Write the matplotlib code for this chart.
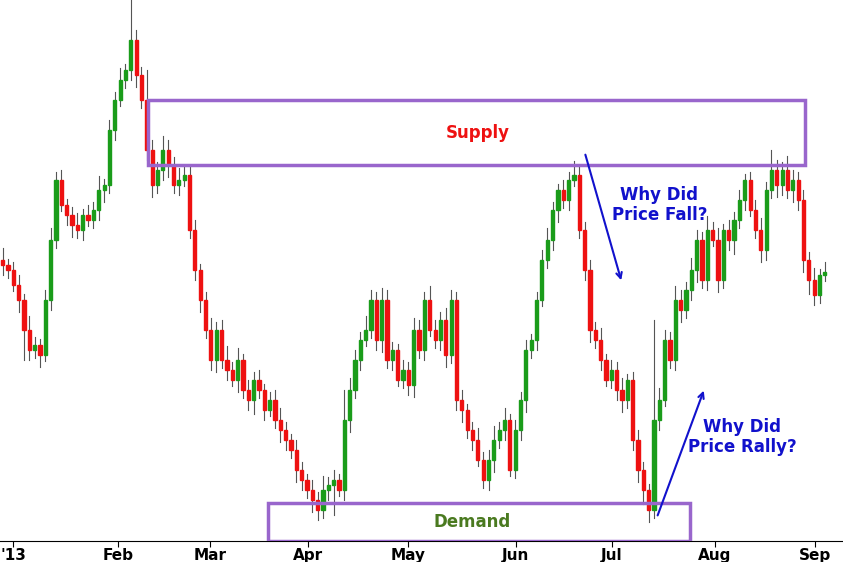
import matplotlib.pyplot as plt
from matplotlib.patches import Rectangle

# closes, read as pixel heights from the picture (price = 560 - y)
close_y = [265, 270, 285, 300, 330, 350, 345, 355, 300, 240,
           180, 205, 215, 225, 230, 215, 220, 210, 190, 185,
           130, 100, 80, 70, 40, 75, 100, 150, 185, 170,
           150, 165, 185, 180, 175, 230, 270, 300, 330, 360,
           330, 360, 370, 380, 360, 390, 400, 380, 390, 410,
           400, 420, 430, 440, 450, 470, 480, 490, 500, 510,
           490, 485, 480, 490, 420, 390, 360, 340, 330, 300,
           340, 300, 360, 350, 380, 370, 385, 330, 350, 300,
           330, 340, 320, 355, 300, 400, 410, 430, 440, 460,
           480, 460, 440, 430, 420, 470, 430, 400, 350, 340,
           300, 260, 240, 210, 190, 200, 180, 175, 230, 270,
           330, 340, 360, 380, 370, 390, 400, 380, 440, 470,
           490, 510, 420, 400, 340, 360, 300, 310, 290, 270,
           240, 280, 230, 240, 280, 230, 240, 220, 200, 180,
           210, 230, 250, 190, 170, 185, 170, 190, 180, 200,
           260, 280, 295, 275, 272]
wick_up = [12, 6, 8, 10, 6, 14, 8, 6, 10, 12,
           8, 10, 6, 8, 12, 6, 10, 8, 14, 6,
           10, 8, 12, 6, 40, 10, 8, 30, 10, 8,
           14, 10, 8, 12, 10, 8, 10, 6, 8, 12,
           8, 10, 14, 8, 12, 6, 10, 8, 10, 6,
           8, 10, 12, 8, 6, 10, 8, 6, 10, 8,
           14, 8, 10, 6, 30, 12, 10, 8, 14, 10,
           8, 12, 10, 8, 6, 10, 8, 12, 10, 8,
           14, 10, 8, 12, 10, 8, 10, 6, 8, 12,
           8, 10, 14, 8, 12, 6, 10, 8, 10, 6,
           8, 10, 12, 8, 6, 10, 8, 14, 10, 8,
           10, 8, 12, 6, 10, 8, 12, 6, 8, 10,
           8, 6, 100, 12, 10, 8, 14, 10, 8, 12,
           10, 8, 14, 8, 12, 6, 10, 8, 10, 6,
           8, 10, 12, 8, 20, 10, 8, 14, 10, 8,
           10, 8, 12, 6, 10]
wick_dn = [10, 8, 6, 12, 30, 10, 8, 12, 6, 10,
           8, 6, 10, 12, 8, 10, 6, 8, 10, 12,
           8, 10, 6, 8, 10, 12, 8, 10, 12, 8,
           10, 12, 8, 10, 6, 8, 10, 12, 8, 10,
           12, 8, 10, 6, 12, 8, 10, 14, 8, 10,
           6, 8, 12, 10, 8, 12, 10, 8, 12, 10,
           8, 10, 30, 6, 10, 12, 8, 10, 6, 8,
           10, 12, 8, 10, 6, 8, 10, 12, 8, 10,
           6, 8, 10, 12, 8, 10, 12, 8, 10, 6,
           8, 10, 12, 8, 10, 6, 8, 10, 12, 8,
           10, 6, 8, 10, 12, 8, 10, 6, 8, 10,
           12, 8, 10, 6, 8, 10, 12, 8, 10, 12,
           14, 12, 8, 10, 6, 8, 10, 12, 8, 10,
           12, 8, 10, 6, 12, 8, 10, 14, 8, 10,
           6, 8, 12, 10, 8, 12, 10, 8, 12, 10,
           12, 14, 10, 8, 6]
month_labels = ["'13", "Feb", "Mar", "Apr", "May", "Jun", "Jul", "Aug", "Sep"]
month_pos = [2.0, 21.6, 38.9, 57.2, 76.0, 96.1, 114.1, 133.4, 152.1]

closes = [560 - y for y in close_y]
opens = [closes[0] + 5] + closes[:-1]

fig = plt.figure(figsize=(8.43, 5.62), dpi=100)
ax = fig.add_axes([0, 21 / 562, 1, 541 / 562])

for i, (o, c) in enumerate(zip(opens, closes)):
    col = '#1a9c1a' if c >= o else '#ee1111'
    hi = max(o, c) + wick_up[i]
    lo = min(o, c) - wick_dn[i]
    ax.plot([i, i], [lo, hi], color='#555555', lw=0.8, zorder=1)
    ax.add_patch(Rectangle((i - 0.3, min(o, c)), 0.6, max(abs(c - o), 1),
                           color=col, zorder=2))

ax.set_xlim(-0.5, 157.4)
ax.set_ylim(19, 560)

# supply / demand zones
ax.add_patch(Rectangle((27.2, 395), 123.1, 65, fill=False, ec='#9966cc', lw=2.5, zorder=3))
ax.add_patch(Rectangle((49.7, 19), 79.0, 38, fill=False, ec='#9966cc', lw=2.5, zorder=3))
ax.text(89, 427, 'Supply', color='#ee1111', fontsize=12, fontweight='bold', ha='center', va='center')
ax.text(88, 38, 'Demand', color='#4a7a20', fontsize=12, fontweight='bold', ha='center', va='center')

ax.annotate('', xy=(116, 277), xytext=(109, 408),
            arrowprops=dict(arrowstyle='->', color='#1111cc', lw=1.5))
ax.annotate('', xy=(131.5, 172), xytext=(122.5, 42),
            arrowprops=dict(arrowstyle='->', color='#1111cc', lw=1.5))
ax.text(123, 355, 'Why Did\nPrice Fall?', color='#1111cc', fontsize=12,
        fontweight='bold', ha='center', va='center')
ax.text(138.5, 123, 'Why Did\nPrice Rally?', color='#1111cc', fontsize=12,
        fontweight='bold', ha='center', va='center')

ax.set_xticks(month_pos)
ax.set_xticklabels(month_labels, fontsize=11, fontweight='bold')
ax.tick_params(axis='x', length=4, pad=1)
ax.set_yticks([])
for s in ['top', 'right', 'left']:
    ax.spines[s].set_visible(False)

fig.savefig('out.png', dpi=100)
